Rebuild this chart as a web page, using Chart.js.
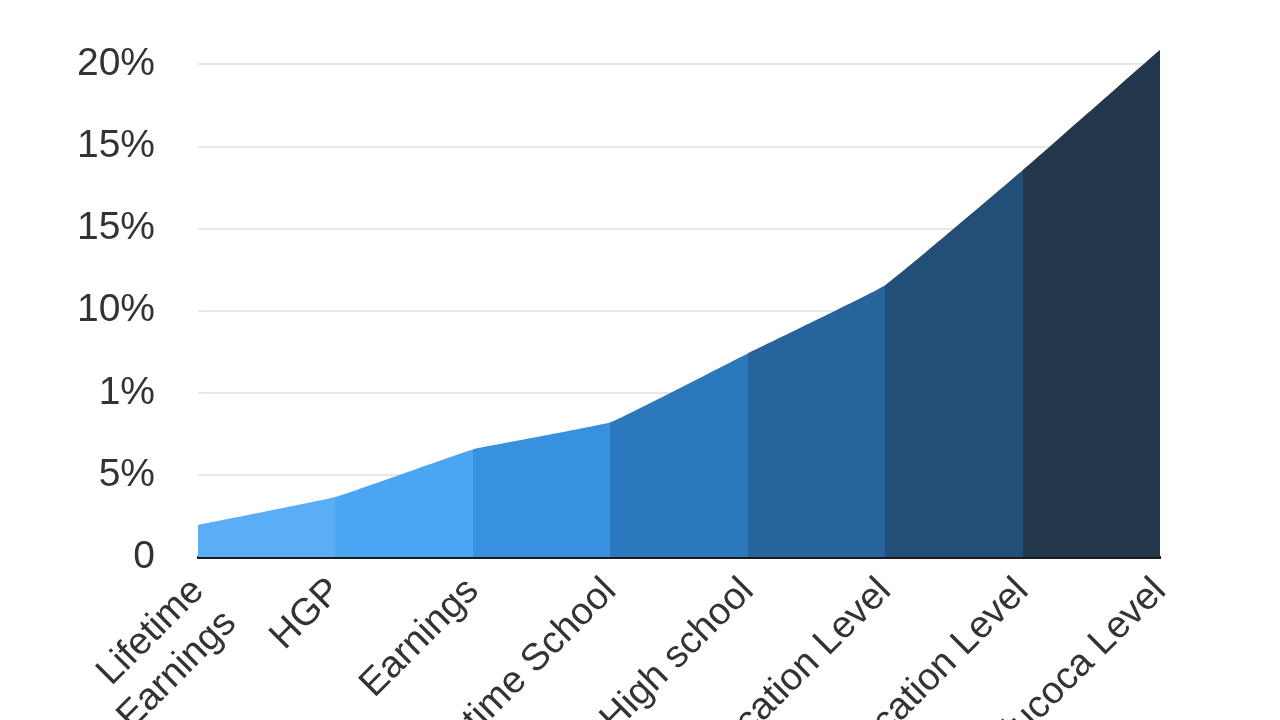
<!DOCTYPE html>
<html>
<head>
<meta charset="utf-8">
<title>Lifetime Earnings by Education Level</title>
<script src="https://cdn.jsdelivr.net/npm/chart.js@4/dist/chart.umd.min.js"></script>
<style>
    html, body { margin: 0; padding: 0; background: #ffffff; }
    .chart-wrap { width: 1280px; height: 720px; position: relative; }
</style>
</head>
<body>
<div class="chart-wrap">
    <canvas id="earningsChart"></canvas>
</div>
<script>
// Chart data (values are in grid steps, one step per y tick)
const categories = [
    ['Lifetime', 'Earnings'],
    'HGP',
    'Earnings',
    'Part-time School',
    'High school',
    'Education Level',
    'Education Level',
    'Educoca Level'
];
const earningsValues = [0.39, 0.73, 1.31, 1.64, 2.48, 3.31, 4.71, 6.18];
const tickLabels = ['0', '5%', '1%', '10%', '15%', '15%', '20%'];
const segmentColors = ['#5aaef6', '#4aa6f2', '#3891de', '#2c78bc', '#27639d', '#224e78', '#22364c'];

document.addEventListener('DOMContentLoaded', function() {
    const ctx = document.getElementById('earningsChart').getContext('2d');
    const fontFamily = '"Liberation Sans", Arial, sans-serif';

    // Hard-stop gradient: one colour band per category interval, no seams
    function bandFill(context) {
        const chart = context.chart;
        const area = chart.chartArea;
        if (!area) {
            return segmentColors[0];
        }
        const xScale = chart.scales.x;
        const width = area.right - area.left;
        const grad = chart.ctx.createLinearGradient(area.left, 0, area.right, 0);
        segmentColors.forEach(function(color, i) {
            const from = (xScale.getPixelForValue(i) - area.left) / width;
            const to = (xScale.getPixelForValue(i + 1) - area.left) / width;
            grad.addColorStop(Math.min(Math.max(from, 0), 1), color);
            grad.addColorStop(Math.min(Math.max(to, 0), 1), color);
        });
        return grad;
    }

    new Chart(ctx, {
        type: 'line',
        data: {
            labels: categories,
            datasets: [{
                label: 'Lifetime Earnings',
                data: earningsValues,
                fill: 'origin',
                borderWidth: 0,
                pointRadius: 0,
                tension: 0.08,
                backgroundColor: bandFill
            }]
        },
        options: {
            responsive: true,
            maintainAspectRatio: false,
            animation: false,
            layout: {
                padding: { left: 0, right: 120, top: 48, bottom: 0 }
            },
            plugins: {
                legend: { display: false },
                tooltip: { enabled: false }
            },
            scales: {
                x: {
                    grid: { display: false, drawTicks: false },
                    border: { display: true, color: '#1b1b1b', width: 3 },
                    ticks: {
                        autoSkip: false,
                        minRotation: 45,
                        maxRotation: 45,
                        padding: 12,
                        color: '#333333',
                        font: { family: fontFamily, size: 38 }
                    },
                    afterFit: function(scale) {
                        scale.height = 163;
                    }
                },
                y: {
                    min: 0,
                    max: 6.2,
                    grid: {
                        color: '#e4e7eb',
                        lineWidth: 2,
                        drawTicks: false
                    },
                    border: { display: false },
                    ticks: {
                        padding: 43,
                        color: '#333333',
                        font: { family: fontFamily, size: 39 },
                        callback: function(value) {
                            return tickLabels[value];
                        }
                    },
                    afterBuildTicks: function(scale) {
                        scale.ticks = tickLabels.map(function(label, i) {
                            return { value: i };
                        });
                    },
                    afterFit: function(scale) {
                        scale.width = 198;
                        // let the layout padding alone decide where the plot starts
                        scale.paddingTop = 0;
                        scale.paddingBottom = 0;
                    }
                }
            }
        }
    });
});
</script>
</body>
</html>
